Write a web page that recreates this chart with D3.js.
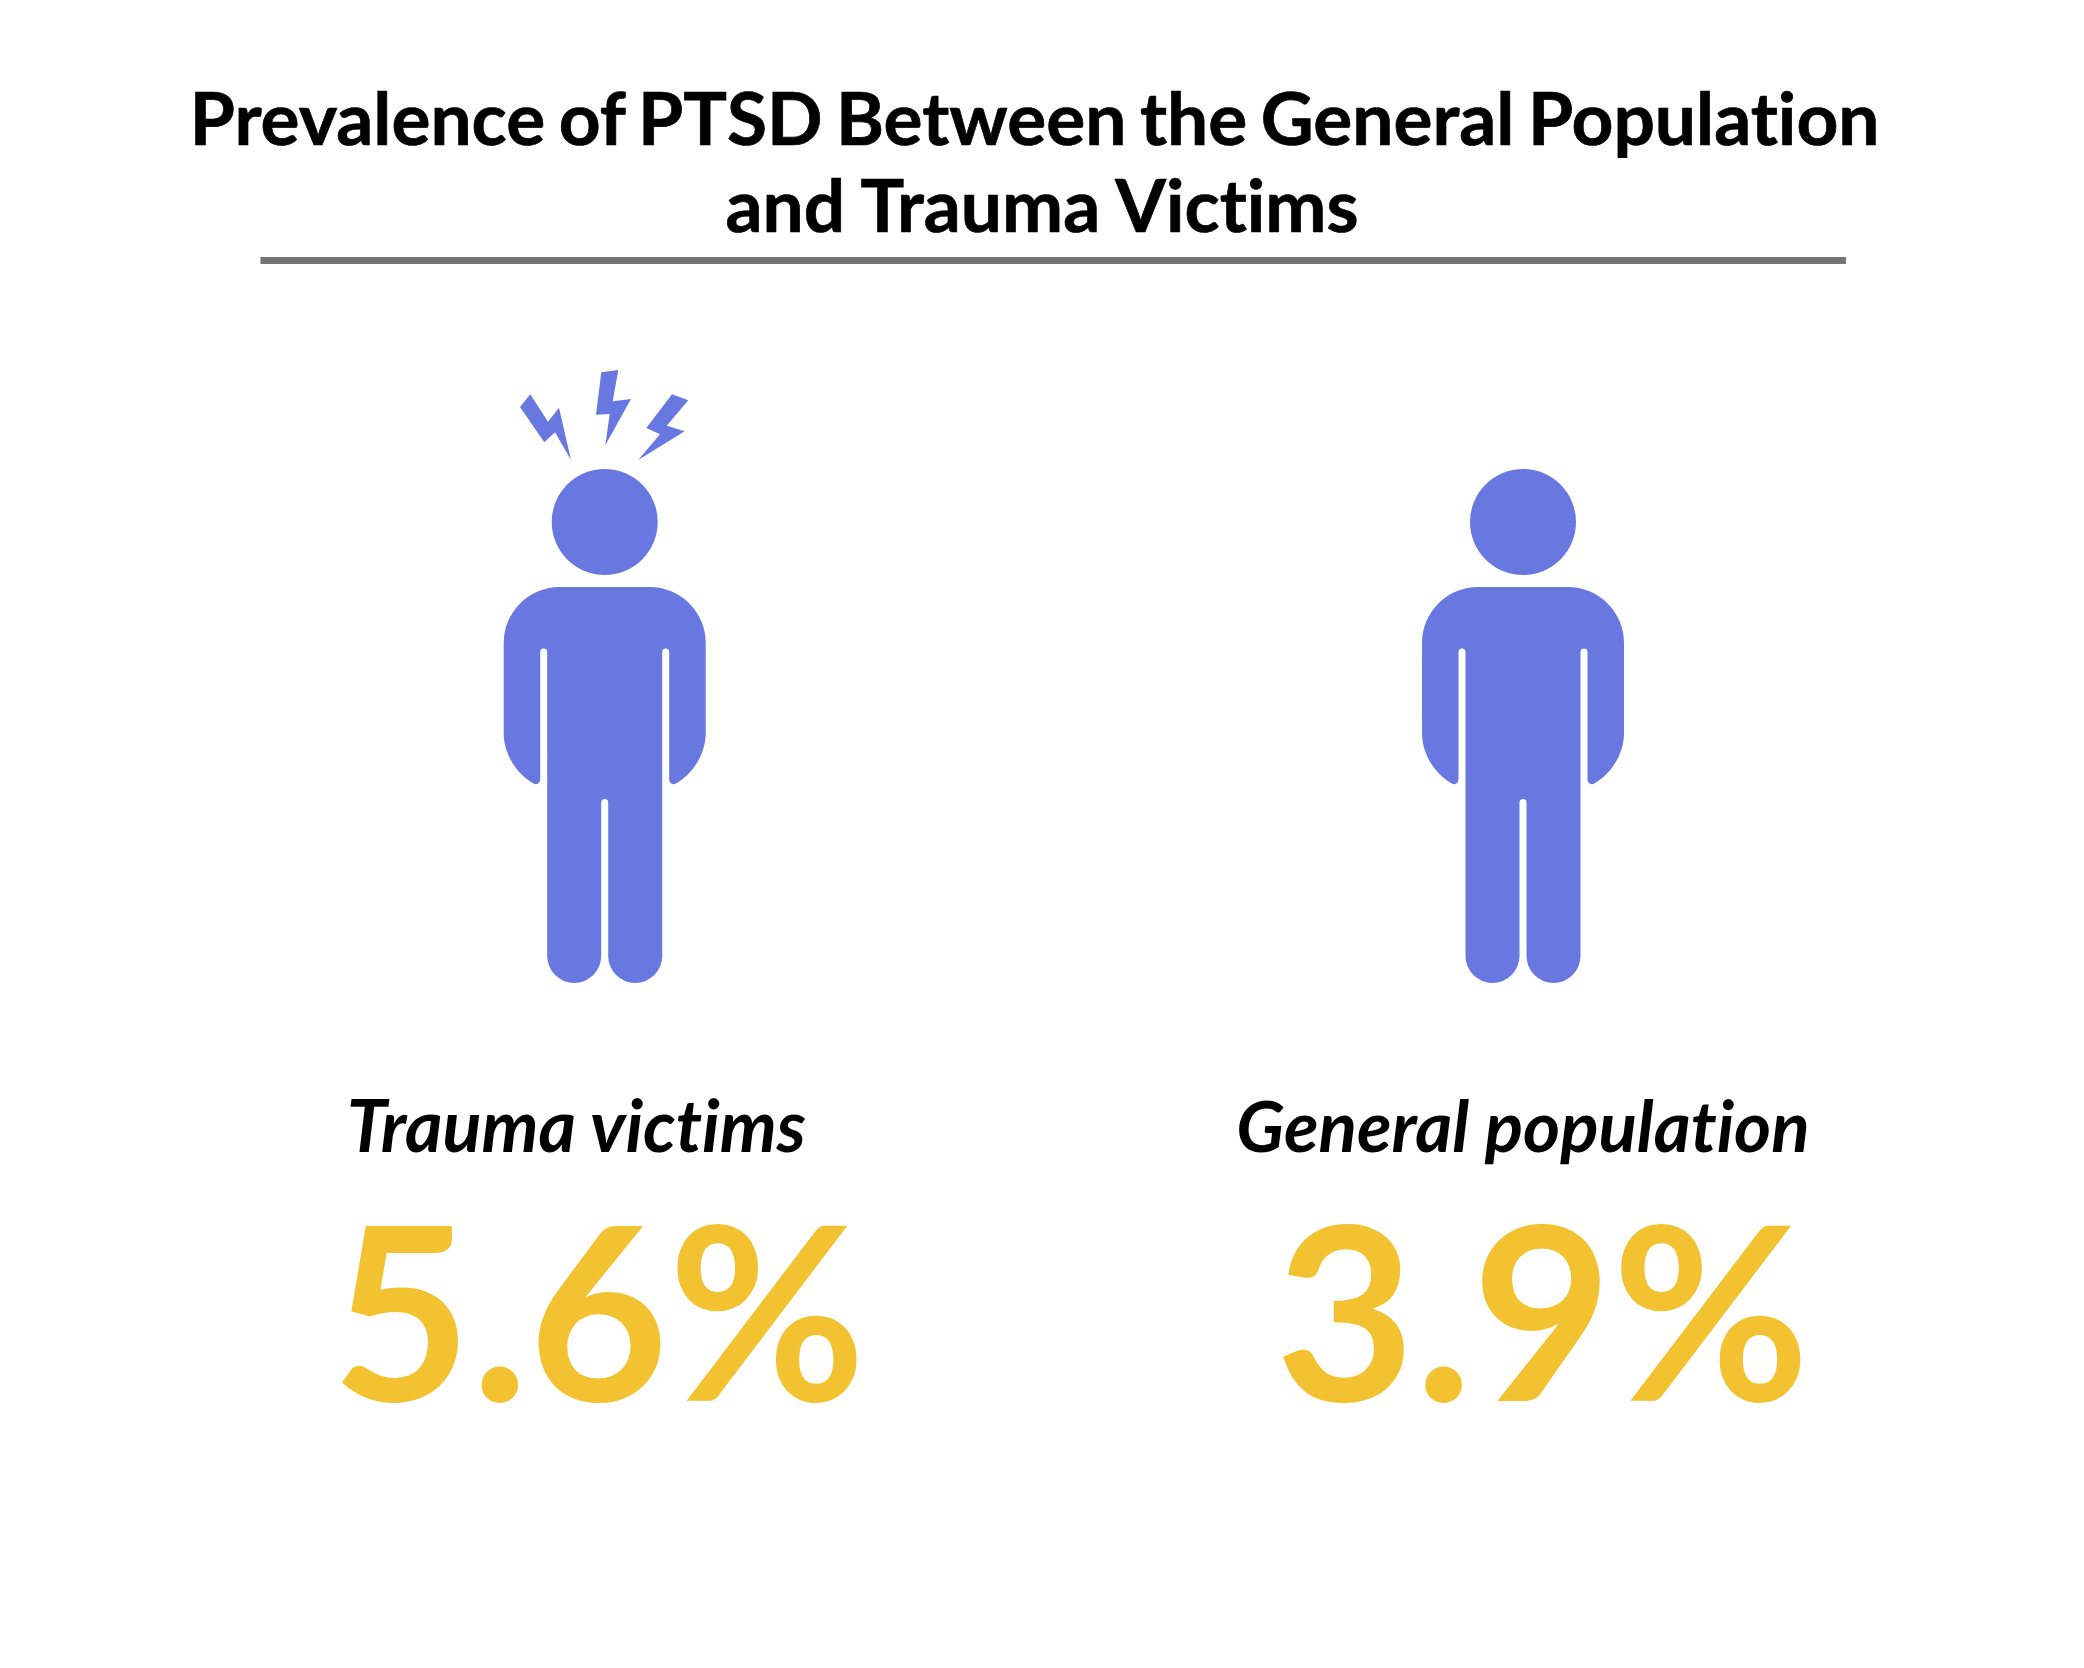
<!DOCTYPE html>
<html lang="en">
<head>
  <meta charset="UTF-8">
  <title>PTSD prevalence</title>
  <script src="https://cdnjs.cloudflare.com/ajax/libs/d3/7.8.5/d3.min.js"></script>
  <style>
    html, body { margin: 0; background: #fff; }
    svg { display: block; }
    text { font-family: Lato, sans-serif; font-weight: 700; font-variant-ligatures: none; }
  </style>
</head>
<body>
  <script>
var titleLines = ["Prevalence of PTSD Between the General Population", "and Trauma Victims"];
var categories = ["Trauma victims", "General population"];
var values = [5.6, 3.9];
var shocked = [true, false];

var width = 2084,
    height = 1668;

var blue = "#6878e0",
    yellow = "#f2c230",
    grey = "#757575";

var svg = d3.select("body").append("svg")
    .attr("width", width)
    .attr("height", height)
    .style("background-color", "#fff");

var x = d3.scalePoint()
    .domain(categories)
    .range([604.7, 1523]);

// heading
svg.selectAll(".title")
    .data(titleLines)
  .enter().append("text")
    .attr("class", "title")
    .attr("x", function(d, i) { return i == 0 ? 1034.7 : 1042; })
    .attr("y", function(d, i) { return 145 + i * 87; })
    .attr("text-anchor", "middle")
    .attr("font-size", 73)
    .attr("word-spacing", function(d, i) { return i == 0 ? -4.2 : 0; })
    .attr("fill", "#000")
    .attr("stroke", "#000")
    .attr("stroke-width", 0.7)
    .text(function(d) { return d; });

svg.append("rect")
    .attr("x", 260.5)
    .attr("y", 257)
    .attr("width", 1585.5)
    .attr("height", 7)
    .attr("fill", grey);

// silhouette of a person, x relative to the middle of the figure
function personPath() {
  var p = d3.path();
  p.moveTo(-45, 587);
  p.lineTo(45, 587);
  p.arcTo(101, 587, 101, 643, 56);
  p.lineTo(101, 733);
  p.bezierCurveTo(101, 756, 86, 775, 72, 783);
  p.bezierCurveTo(68, 786, 64.5, 783, 64.5, 779);
  p.lineTo(64.5, 652);
  p.arc(61, 652, 3.5, 0, Math.PI, true);
  p.lineTo(57.5, 956);
  p.arc(30.5, 956, 27, 0, Math.PI, false);
  p.lineTo(3.5, 802.5);
  p.arc(0, 802.5, 3.5, 0, Math.PI, true);
  p.lineTo(-3.5, 956);
  p.arc(-30.5, 956, 27, 0, Math.PI, false);
  p.lineTo(-57.5, 652);
  p.arc(-61, 652, 3.5, 0, Math.PI, true);
  p.lineTo(-64.5, 779);
  p.bezierCurveTo(-64.5, 783, -68, 786, -72, 783);
  p.bezierCurveTo(-86, 775, -101, 756, -101, 733);
  p.lineTo(-101, 643);
  p.arcTo(-101, 587, -45, 587, 56);
  p.closePath();
  return p.toString();
}

// lightning bolts above the head, same coordinate frame as the silhouette
var bolts = [
  [[-84.7, 407], [-74.4, 394.3], [-56.7, 421.7], [-45.7, 407.7], [-33.7, 460], [-49.7, 432.3], [-60.4, 442.3]],
  [[-3.4, 372.3], [13.6, 370], [8, 401.3], [26.3, 399], [0.6, 445.3], [5, 414], [-8.7, 414.7]],
  [[67.3, 394.3], [83.6, 400.3], [62, 425.7], [80, 431.3], [33.5, 460], [55.3, 434.3], [41.6, 428]]
];

var line = d3.line();

var figures = svg.selectAll(".figure")
    .data(categories)
  .enter().append("g")
    .attr("class", "figure")
    .attr("transform", function(d) { return "translate(" + x(d) + ",0)"; })
    .attr("fill", blue);

figures.append("circle")
    .attr("cx", 0)
    .attr("cy", 522)
    .attr("r", 53);

figures.append("path")
    .attr("d", personPath());

figures.filter(function(d, i) { return shocked[i]; })
  .selectAll(".bolt")
    .data(bolts)
  .enter().append("path")
    .attr("class", "bolt")
    .attr("d", function(d) { return line(d) + "Z"; });

// labels and numbers, nudged off the figure centre as in the original
var labelShift = [-28.3, 0],
    labelSize = [72, 71],
    valueShift = [-6, 19.3];

svg.selectAll(".label")
    .data(categories)
  .enter().append("text")
    .attr("class", "label")
    .attr("x", function(d, i) { return x(d) + labelShift[i]; })
    .attr("y", 1152)
    .attr("text-anchor", "middle")
    .attr("font-size", function(d, i) { return labelSize[i]; })
    .attr("font-style", "italic")
    .attr("fill", "#000")
    .text(function(d) { return d; });

svg.selectAll(".value")
    .data(values)
  .enter().append("text")
    .attr("class", "value")
    .attr("x", function(d, i) { return x(categories[i]) + valueShift[i]; })
    .attr("y", 1401)
    .attr("text-anchor", "middle")
    .attr("font-size", 241)
    .attr("fill", yellow)
    .text(function(d) { return d3.format(".1f")(d) + "%"; });
  </script>
</body>
</html>
